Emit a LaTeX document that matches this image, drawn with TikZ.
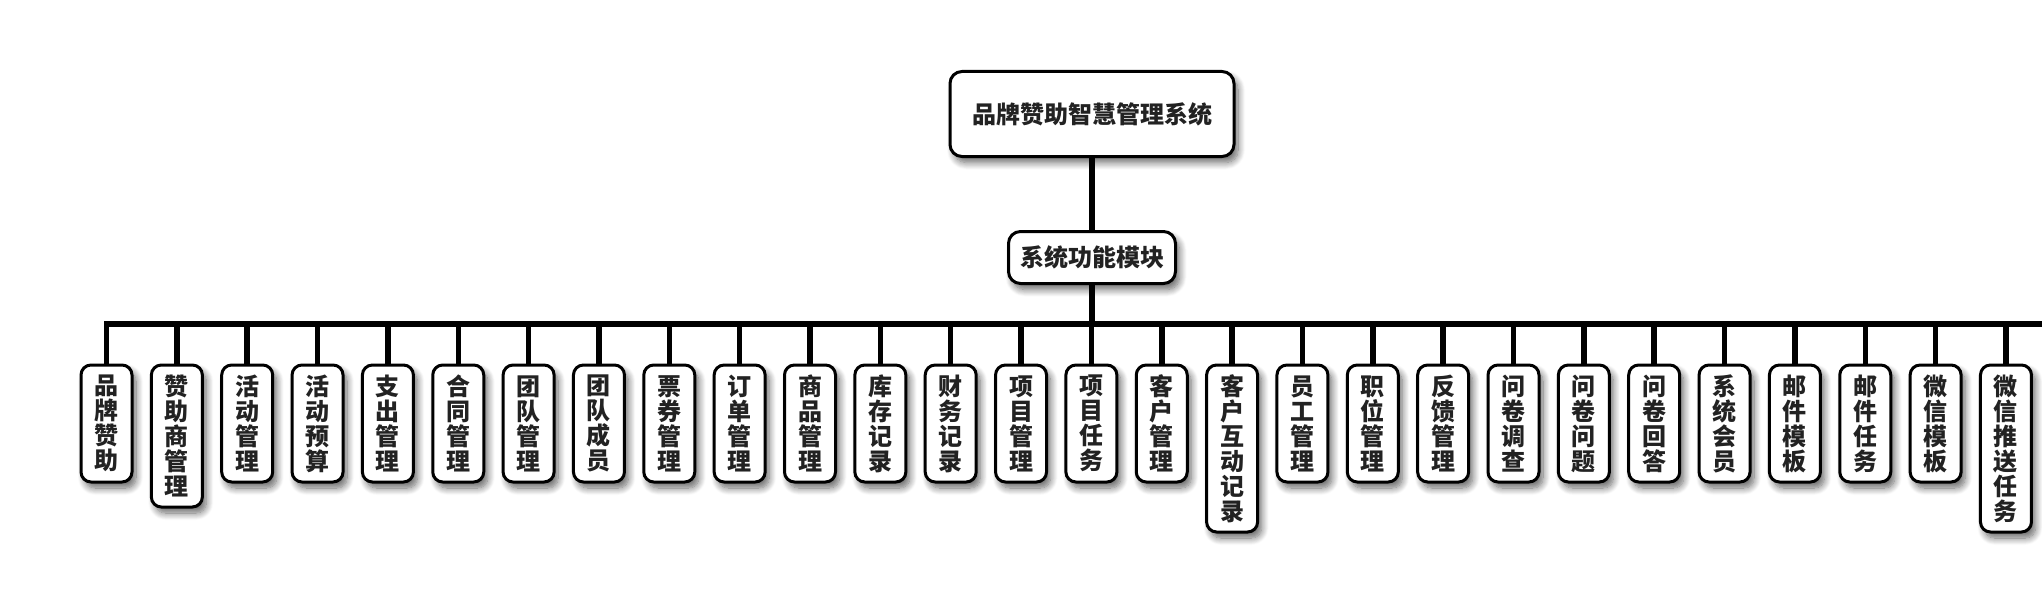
\documentclass[tikz,border=0pt]{standalone}
\usepackage{fontspec}
\newfontfamily\cjk{Noto Sans CJK SC}
\usetikzlibrary{shadows.blur,backgrounds}
\definecolor{txt}{HTML}{222222}
\tikzset{
  boxshadow/.style={blur shadow={shadow xshift=4pt,shadow yshift=-6pt,shadow blur radius=7pt,shadow opacity=60,shadow blur steps=10}},
  topbox/.style={draw,line width=3pt,fill=white,rounded corners=12pt,inner sep=0pt,boxshadow,text=txt,
    font={\cjk\bfseries\fontsize{24pt}{26pt}\selectfont}},
  leafbox/.style={draw,line width=3pt,fill=white,rounded corners=10pt,inner sep=0pt,boxshadow,text=txt,
    align=center,minimum width=51pt,minimum height=#1,anchor=north,
    font={\cjk\bfseries\fontsize{24pt}{25pt}\selectfont}},
  conn/.style={line width=5.5pt,draw=black}
}
\begin{document}
\begin{tikzpicture}[x=1pt,y=-1pt]
\useasboundingbox (0,0) rectangle (2042,607);
\node[topbox,minimum width=284pt,minimum height=85pt] (top) at (1092,114) {品牌赞助智慧管理系统};
\node[topbox,minimum width=167pt,minimum height=52pt] (mid) at (1092,257.5) {系统功能模块};
\coordinate (bar) at (1092,324);
\coordinate (barR) at (2080,324);
\foreach \t/\n [count=\i from 0] in {
  品\\牌\\赞\\助/4, 赞\\助\\商\\管\\理/5, 活\\动\\管\\理/4, 活\\动\\预\\算/4,
  支\\出\\管\\理/4, 合\\同\\管\\理/4, 团\\队\\管\\理/4, 团\\队\\成\\员/4,
  票\\券\\管\\理/4, 订\\单\\管\\理/4, 商\\品\\管\\理/4, 库\\存\\记\\录/4,
  财\\务\\记\\录/4, 项\\目\\管\\理/4, 项\\目\\任\\务/4, 客\\户\\管\\理/4,
  客\\户\\互\\动\\记\\录/6, 员\\工\\管\\理/4, 职\\位\\管\\理/4, 反\\馈\\管\\理/4,
  问\\卷\\调\\查/4, 问\\卷\\问\\题/4, 问\\卷\\回\\答/4, 系\\统\\会\\员/4,
  邮\\件\\模\\板/4, 邮\\件\\任\\务/4, 微\\信\\模\\板/4, 微\\信\\推\\送\\任\\务/6}
{
  \pgfmathsetmacro{\xx}{106.5+\i*70.35}
  \pgfmathsetmacro{\hh}{25*\n+17}
  \node[leafbox=\hh pt] (l\i) at (\xx,363.5) {\t};
}
\begin{scope}[on background layer]
  \draw[conn] (top.south) -- (mid.north);
  \draw[conn] (mid.south) -- (bar);
  \draw[conn] (barR) -- (l0.north |- bar) -- (l0.north);
  \foreach \i in {1,...,27} { \draw[conn] (l\i.north |- bar) -- (l\i.north); }
\end{scope}
\end{tikzpicture}
\end{document}
